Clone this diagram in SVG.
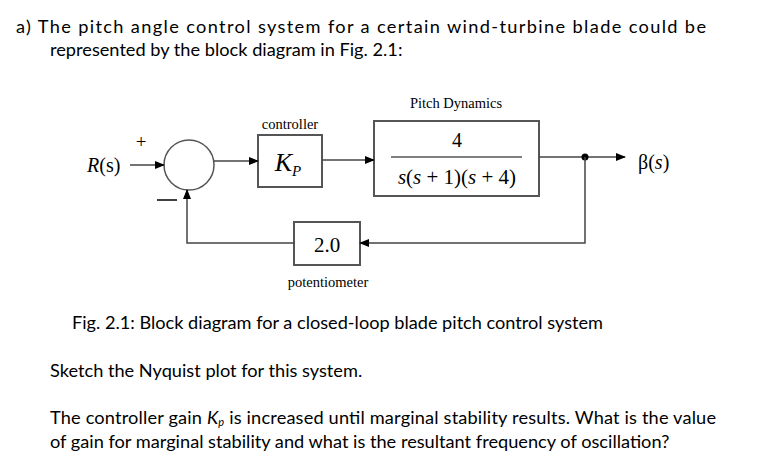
<svg xmlns="http://www.w3.org/2000/svg" width="771" height="471" viewBox="0 0 771 471">
<style>
.t{font-family:Lato,"Liberation Sans",sans-serif;font-size:18.2px;fill:#000}
.s{font-family:"Liberation Serif",serif;fill:#000}
.b{fill:#fff;stroke:#555;stroke-width:2}
.l{fill:none;stroke:#444;stroke-width:1.5}
</style>
<defs><marker id="a" markerWidth="10" markerHeight="8" refX="9" refY="4" orient="auto" markerUnits="userSpaceOnUse"><path d="M0,0L10,4L0,8z" fill="#000"/></marker></defs>
<rect width="771" height="471" fill="#fff"/>
<text class="t" x="16" y="33" textLength="690" lengthAdjust="spacing">a)  The pitch angle control system for a certain wind-turbine blade could be</text>
<text class="t" x="50" y="56">represented by the block diagram in Fig. 2.1:</text>
<g id="sum"><circle cx="189" cy="165" r="25" fill="#fff" stroke="#555" stroke-width="1.5"/>
<text class="s" x="141" y="148" font-size="19" text-anchor="middle">+</text>
<line x1="157" y1="200" x2="177" y2="200" stroke="#000" stroke-width="1.5"/></g>
<g id="R"><text class="s" x="87" y="172" font-size="20"><tspan font-style="italic">R</tspan>(s)</text></g>
<g id="kp"><rect class="b" x="258" y="135" width="64" height="52"/>
<text class="s" x="290" y="129" font-size="14.5" text-anchor="middle">controller</text>
<text class="s" x="288" y="171" font-size="26" font-style="italic" text-anchor="middle">K<tspan font-size="15" dy="5">P</tspan></text></g>
<g id="plant"><rect class="b" x="374" y="121" width="165" height="75"/>
<text class="s" x="456" y="108" font-size="14.5" text-anchor="middle">Pitch Dynamics</text>
<text class="s" x="457" y="147" font-size="20" text-anchor="middle">4</text>
<line x1="391" y1="157" x2="522" y2="157" stroke="#555" stroke-width="1.5"/>
<text class="s" x="457" y="184" font-size="21" text-anchor="middle"><tspan font-style="italic">s</tspan>(<tspan font-style="italic">s</tspan> + 1)(<tspan font-style="italic">s</tspan> + 4)</text></g>
<g id="pot"><rect class="b" x="294" y="222" width="66" height="43"/>
<text class="s" x="327" y="252" font-size="21" text-anchor="middle">2.0</text>
<text class="s" x="328" y="287" font-size="14.5" text-anchor="middle">potentiometer</text></g>
<g id="out"><text class="s" x="638" y="169" font-size="20">β(<tspan font-style="italic">s</tspan>)</text></g>
<g id="connectors">
<line class="l" x1="130" y1="165" x2="164" y2="165" marker-end="url(#a)"/>
<line class="l" x1="214" y1="161" x2="258" y2="161" marker-end="url(#a)"/>
<line class="l" x1="322" y1="160" x2="374" y2="160" marker-end="url(#a)"/>
<line class="l" x1="539" y1="157" x2="625" y2="157" marker-end="url(#a)"/>
<circle cx="585" cy="157" r="3.5" fill="#000"/>
<polyline class="l" points="585,157 585,243 360,243" marker-end="url(#a)"/>
<polyline class="l" points="294,243 187,243 187,190" marker-end="url(#a)"/>
</g>
<text class="t" x="72" y="329" textLength="531" lengthAdjust="spacingAndGlyphs">Fig. 2.1: Block diagram for a closed-loop blade pitch control system</text>
<text class="t" x="50" y="377">Sketch the Nyquist plot for this system.</text>
<text class="t" x="50" y="424" textLength="666" lengthAdjust="spacing">The controller gain <tspan font-style="italic">K<tspan font-size="11" dy="2">p</tspan></tspan><tspan dy="-2"> is increased until marginal stability results. What is the value</tspan></text>
<text class="t" x="50" y="448">of gain for marginal stability and what is the resultant frequency of oscillation?</text>
</svg>
